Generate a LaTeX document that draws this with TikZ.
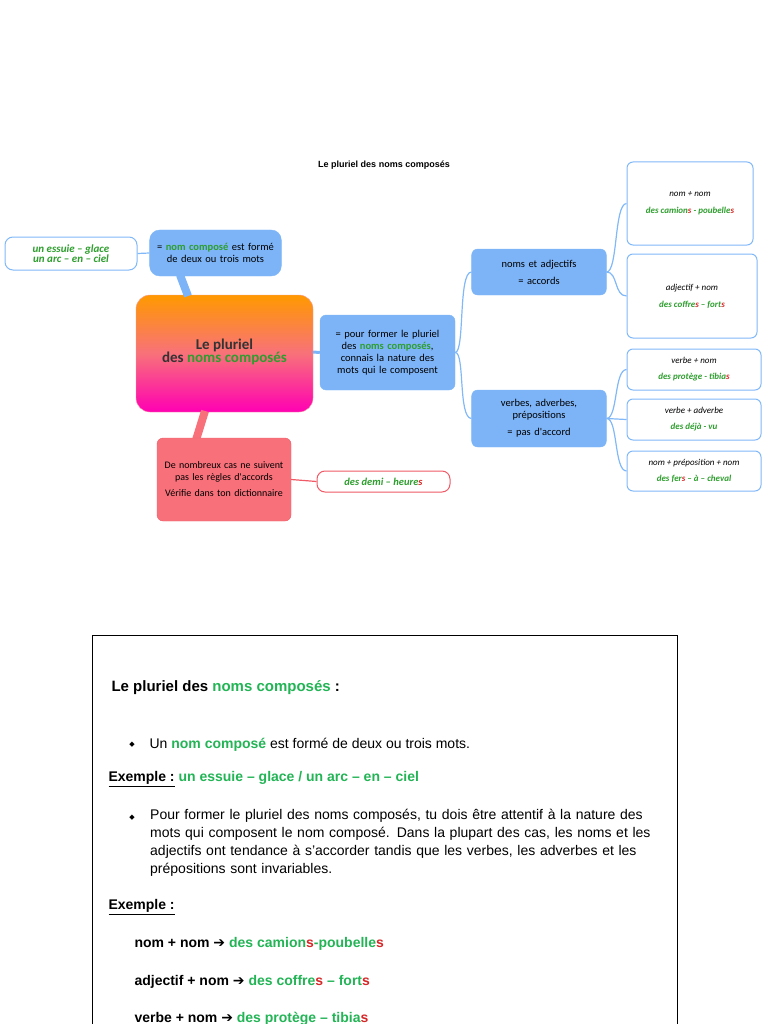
\documentclass[tikz,border=0pt]{standalone}
\usepackage{fontspec}
\setmainfont{Liberation Sans}
\newfontfamily\mm{Carlito}
\newfontfamily\dv{DejaVu Sans}
\usetikzlibrary{positioning}
\definecolor{bfill}{HTML}{7DB4F7}
\definecolor{bline}{HTML}{80B8F8}
\definecolor{gtx}{HTML}{2E9E2E}
\definecolor{gb}{HTML}{22B455}
\definecolor{rtx}{HTML}{D62728}
\definecolor{rfill}{HTML}{F8717A}
\definecolor{rline}{HTML}{F05A66}
\begin{document}
\begin{tikzpicture}[x=1pt,y=-1pt,
  wbox/.style={draw=bline,line width=1pt,fill=white,rounded corners=6pt,align=center,font=\mm\fontsize{9}{11}\selectfont\itshape},
  bbox/.style={draw=bline,fill=bfill,rounded corners=6pt,align=center,font=\mm\fontsize{10.5}{12}\selectfont},
  link/.style={draw=bline,line width=1.2pt},
  ex/.style={font=\mm\fontsize{9.5}{11}\selectfont\bfseries\itshape}]
\useasboundingbox (0,0) rectangle (768,1024);
\clip (0,0) rectangle (768,1024);
\node[font=\bfseries\fontsize{9}{11}\selectfont] (title) at (384,165) {Le pluriel des noms composés};
% central
\shade[top color=orange!80!yellow,bottom color=magenta!70!red,middle color=rfill,rounded corners=14pt,draw=rline!60]
  (136,295) rectangle (313,412);
\node[align=center,font=\mm\bfseries\fontsize{15}{13}\selectfont,text=black!80] (c) at (224.5,352) {Le pluriel\\des \textcolor{gtx}{noms composés}};
% cloud
\node[bbox,minimum width=131pt,minimum height=46pt,text width=125pt,rounded corners=10pt] (cl) at (215.5,253)
 {= \textbf{\textcolor{gtx}{nom composé}} est formé de deux ou trois mots};
\node[wbox,minimum width=132pt,minimum height=33pt,rounded corners=8pt,font=\mm\fontsize{11}{10}\selectfont\bfseries\itshape,text=gtx] (ess) at (71,253.5) {un essuie – glace\\un arc – en – ciel};
\draw[link] (ess.east) -- (cl.west);
\draw[bfill,line width=8pt] (188,296) -- (180,275);
\draw[rfill,line width=8pt] (205,411) -- (196,440);
% red box
\node[draw=rline,fill=rfill,rounded corners=6pt,minimum width=134pt,minimum height=83pt,text width=125pt,align=center,font=\mm\fontsize{10}{11.5}\selectfont] (red) at (224,479.5)
 {De nombreux cas ne suivent pas les règles d'accords\\[5pt]Vérifie dans ton dictionnaire};
\node[draw=rline,line width=1pt,fill=white,rounded corners=8pt,minimum width=133pt,minimum height=21pt,ex,font=\mm\fontsize{10.5}{12}\selectfont\bfseries\itshape] (demi) at (383.5,481.5) {\textcolor{gtx}{des demi – heure}\textcolor{rtx}{s}};
\draw[draw=rline,line width=1.2pt] (red.east) -- (demi.west);
% middle
\node[bbox,minimum width=135pt,minimum height=75pt,text width=128pt] (mid) at (387.5,352.5)
 {= pour former le pluriel des \textbf{\textcolor{gtx}{noms composés}}, connais la nature des mots qui le composent};
\draw[bfill,line width=3pt] (313,352) -- (mid.west);
\node[bbox,minimum width=134pt,minimum height=46pt,text width=128pt] (na) at (539,272) {noms et adjectifs\\[5pt]= accords};
\node[bbox,minimum width=134pt,minimum height=57pt,text width=128pt] (va) at (539,418.5) {verbes, adverbes,\\prépositions\\[5pt]= pas d'accord};
\draw[link] (mid.east) .. controls (465,352) and (458,272) .. (na.west);
\draw[link] (mid.east) .. controls (465,352) and (458,418) .. (va.west);
% right boxes
\node[wbox,minimum width=126pt,minimum height=83pt] (A) at (690,203.5) {nom + nom\\[6pt]\textbf{\textcolor{gtx}{des camion\textcolor{rtx}{s} - poubelle\textcolor{rtx}{s}}}};
\node[wbox,minimum width=130pt,minimum height=84pt] (B) at (692,296) {adjectif + nom\\[6pt]\textbf{\textcolor{gtx}{des coffre\textcolor{rtx}{s} – fort\textcolor{rtx}{s}}}};
\node[wbox,minimum width=134pt,minimum height=41pt] (C) at (694,369.5) {verbe + nom\\[5pt]\textbf{\textcolor{gtx}{des protège - tibia\textcolor{rtx}{s}}}};
\node[wbox,minimum width=134pt,minimum height=41pt] (D) at (694,419.5) {verbe + adverbe\\[5pt]\textbf{\textcolor{gtx}{des déjà - vu}}};
\node[wbox,minimum width=134pt,minimum height=40pt] (E) at (694,471) {nom + préposition + nom\\[5pt]\textbf{\textcolor{gtx}{des fer\textcolor{rtx}{s} – à – cheval}}};
\draw[link] (na.east) .. controls (618,272) and (614,204) .. (A.west);
\draw[link] (na.east) .. controls (618,272) and (614,296) .. (B.west);
\draw[link] (va.east) .. controls (618,418) and (614,370) .. (C.west);
\draw[link] (va.east) -- (D.west);
\draw[link] (va.east) .. controls (618,418) and (614,471) .. (E.west);
% bottom document
\draw[line width=1pt] (92,1030) -- (92,635) -- (677,635) -- (677,1030);
\node[anchor=west,font=\bfseries\fontsize{15}{18}\selectfont] (h) at (108,688) {Le pluriel des \textcolor{gb}{noms composés} :};
\node[font=\dv\fontsize{7}{8}\selectfont] (b1) at (132,745) {◆};
\node[anchor=west,font=\fontsize{14}{18}\selectfont] (t1) at (146,745) {Un \textbf{\textcolor{gb}{nom composé}} est formé de deux ou trois mots.};
\node[anchor=west,font=\bfseries\fontsize{14}{18}\selectfont] (e1) at (105,779) {\underline{Exemple :} \textcolor{gb}{un essuie – glace / un arc – en – ciel}};
\node[font=\dv\fontsize{7}{8}\selectfont] (b2) at (132,818) {◆};
\node[anchor=north west,text width=505pt,inner sep=0pt,font=\fontsize{14}{18}\selectfont] (t2) at (150,809) {Pour former le pluriel des noms composés, tu dois être attentif à la nature des mots qui composent le nom composé. Dans la plupart des cas, les noms et les adjectifs ont tendance à s'accorder tandis que les verbes, les adverbes et les prépositions sont invariables.};
\node[anchor=west,font=\bfseries\fontsize{14}{18}\selectfont] (e2) at (105,907) {\underline{Exemple :}};
\node[anchor=west,font=\bfseries\fontsize{14}{18}\selectfont] (l1) at (131,944) {nom + nom {\dv ➔} \textcolor{gb}{des camion\textcolor{rtx}{s}-poubelle\textcolor{rtx}{s}}};
\node[anchor=west,font=\bfseries\fontsize{14}{18}\selectfont] (l2) at (131,982) {adjectif + nom {\dv ➔} \textcolor{gb}{des coffre\textcolor{rtx}{s} – fort\textcolor{rtx}{s}}};
\node[anchor=west,font=\bfseries\fontsize{14}{18}\selectfont] (l3) at (131,1019) {verbe + nom {\dv ➔} \textcolor{gb}{des protège – tibia\textcolor{rtx}{s}}};
\end{tikzpicture}
\end{document}
